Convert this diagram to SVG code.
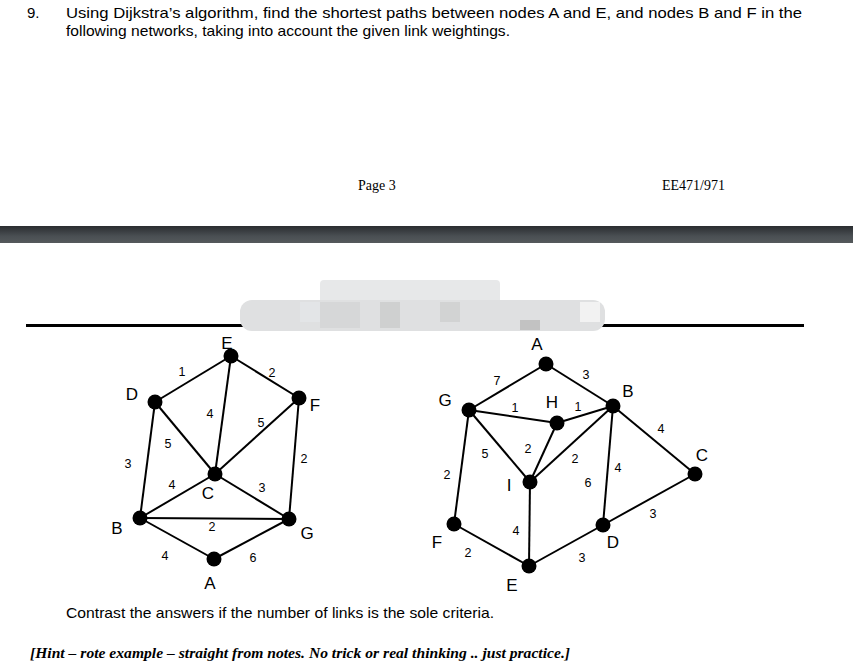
<svg xmlns="http://www.w3.org/2000/svg" width="853" height="669" viewBox="0 0 853 669">
<defs>
<linearGradient id="bar" x1="0" y1="0" x2="0" y2="1">
<stop offset="0" stop-color="#2a2d30"/>
<stop offset="0.6" stop-color="#4a4f53"/>
<stop offset="1" stop-color="#55595c"/>
</linearGradient>
</defs>
<style>
.t{font-family:"Liberation Sans",Arial,sans-serif;fill:#000}
.q{font-size:15px}
.lbl{font-size:17px;text-anchor:middle}
.w{font-size:12.5px;text-anchor:middle}
.tm{font-family:"Liberation Serif","Times New Roman",serif;font-size:14px;fill:#000}
.hint{font-family:"Liberation Serif","Times New Roman",serif;font-size:15px;font-weight:bold;font-style:italic;fill:#000}
.e{stroke:#000;stroke-width:2;fill:none}
.n{fill:#000}
</style>
<rect width="853" height="669" fill="#fff"/>
<text class="t q" x="27" y="18">9.</text>
<text class="t q" x="66" y="18" textLength="736" lengthAdjust="spacingAndGlyphs">Using Dijkstra’s algorithm, find the shortest paths between nodes A and E, and nodes B and F in the</text>
<text class="t q" x="66" y="36" textLength="444" lengthAdjust="spacingAndGlyphs">following networks, taking into account the given link weightings.</text>
<text class="tm" x="358" y="190">Page 3</text>
<text class="tm" x="662" y="190">EE471/971</text>
<rect x="0" y="226" width="853" height="17" fill="url(#bar)"/>
<rect x="26" y="324" width="778" height="3" fill="#000"/>
<g id="blur">
<rect x="320" y="280" width="180" height="24" rx="4" fill="#e7e8e9"/>
<rect x="240" y="300" width="365" height="31" rx="12" fill="#dfe0e1"/>
<rect x="300" y="302" width="20" height="20" fill="#e3e5e7"/>
<rect x="320" y="302" width="40" height="26" fill="#d6d7d8"/>
<rect x="380" y="302" width="20" height="26" fill="#cfd0d0"/>
<rect x="440" y="302" width="20" height="20" fill="#d2d3d3"/>
<rect x="520" y="320" width="20" height="10" fill="#c2c2c2"/>
<rect x="580" y="302" width="20" height="20" fill="#f2f2f2"/>
</g>
<g id="connectors">
<line class="e" x1="155" y1="402" x2="231" y2="356"/>
<line class="e" x1="231" y1="356" x2="299" y2="398"/>
<line class="e" x1="231" y1="356" x2="215" y2="474"/>
<line class="e" x1="155" y1="402" x2="215" y2="474"/>
<line class="e" x1="299" y1="398" x2="215" y2="474"/>
<line class="e" x1="155" y1="402" x2="140" y2="518"/>
<line class="e" x1="299" y1="398" x2="289" y2="519"/>
<line class="e" x1="140" y1="518" x2="215" y2="474"/>
<line class="e" x1="215" y1="474" x2="289" y2="519"/>
<line class="e" x1="140" y1="518" x2="289" y2="519"/>
<line class="e" x1="140" y1="518" x2="214" y2="559"/>
<line class="e" x1="214" y1="559" x2="289" y2="519"/>
<line class="e" x1="469" y1="410" x2="546" y2="364"/>
<line class="e" x1="546" y1="364" x2="613" y2="406"/>
<line class="e" x1="469" y1="410" x2="557" y2="423"/>
<line class="e" x1="557" y1="423" x2="613" y2="406"/>
<line class="e" x1="613" y1="406" x2="695" y2="474"/>
<line class="e" x1="469" y1="410" x2="530" y2="482"/>
<line class="e" x1="557" y1="423" x2="530" y2="482"/>
<line class="e" x1="613" y1="406" x2="530" y2="482"/>
<line class="e" x1="613" y1="406" x2="603" y2="525"/>
<line class="e" x1="695" y1="474" x2="603" y2="525" stroke-width="2.6"/>
<line class="e" x1="469" y1="410" x2="454" y2="524"/>
<line class="e" x1="454" y1="524" x2="529" y2="566"/>
<line class="e" x1="530" y1="482" x2="529" y2="566"/>
<line class="e" x1="529" y1="566" x2="603" y2="525"/>
</g>
<g id="weights" class="t">
<text class="w" x="182" y="376">1</text>
<text class="w" x="272" y="377">2</text>
<text class="w" x="210" y="418">4</text>
<text class="w" x="261" y="427">5</text>
<text class="w" x="168" y="448">5</text>
<text class="w" x="128" y="468">3</text>
<text class="w" x="304" y="463">2</text>
<text class="w" x="172" y="489">4</text>
<text class="w" x="262" y="492">3</text>
<text class="w" x="212" y="531">2</text>
<text class="w" x="165" y="560">4</text>
<text class="w" x="253" y="562">6</text>
<text class="w" x="497" y="385">7</text>
<text class="w" x="586" y="379">3</text>
<text class="w" x="515" y="412">1</text>
<text class="w" x="578" y="411">1</text>
<text class="w" x="661" y="433">4</text>
<text class="w" x="485" y="458">5</text>
<text class="w" x="528" y="453">2</text>
<text class="w" x="575" y="463">2</text>
<text class="w" x="618" y="472">4</text>
<text class="w" x="588" y="487">6</text>
<text class="w" x="447" y="479">2</text>
<text class="w" x="516" y="535">4</text>
<text class="w" x="653" y="518">3</text>
<text class="w" x="468" y="557">2</text>
<text class="w" x="582" y="562">3</text>
</g>
<g id="L-E"><circle class="n" cx="231" cy="356" r="7.5"/><text class="t lbl" x="227" y="349">E</text></g>
<g id="L-D"><circle class="n" cx="155" cy="402" r="7.5"/><text class="t lbl" x="132" y="400">D</text></g>
<g id="L-F"><circle class="n" cx="299" cy="398" r="7.5"/><text class="t lbl" x="315" y="411">F</text></g>
<g id="L-C"><circle class="n" cx="215" cy="474" r="7.5"/><text class="t lbl" x="208" y="499">C</text></g>
<g id="L-B"><circle class="n" cx="140" cy="518" r="7.5"/><text class="t lbl" x="117" y="534">B</text></g>
<g id="L-G"><circle class="n" cx="289" cy="519" r="7.5"/><text class="t lbl" x="307" y="539">G</text></g>
<g id="L-A"><circle class="n" cx="214" cy="559" r="7.5"/><text class="t lbl" x="210" y="589">A</text></g>
<g id="R-A"><circle class="n" cx="546" cy="364" r="7.5"/><text class="t lbl" x="537" y="350">A</text></g>
<g id="R-G"><circle class="n" cx="469" cy="410" r="7.5"/><text class="t lbl" x="445" y="406">G</text></g>
<g id="R-H"><circle class="n" cx="557" cy="423" r="7.5"/><text class="t lbl" x="552" y="408">H</text></g>
<g id="R-B"><circle class="n" cx="613" cy="406" r="7.5"/><text class="t lbl" x="628" y="397">B</text></g>
<g id="R-I"><circle class="n" cx="530" cy="482" r="7.5"/><text class="t lbl" x="509" y="491">I</text></g>
<g id="R-C"><circle class="n" cx="695" cy="474" r="7.5"/><text class="t lbl" x="702" y="461">C</text></g>
<g id="R-F"><circle class="n" cx="454" cy="524" r="7.5"/><text class="t lbl" x="437" y="548">F</text></g>
<g id="R-D"><circle class="n" cx="603" cy="525" r="7.5"/><text class="t lbl" x="613" y="548">D</text></g>
<g id="R-E"><circle class="n" cx="529" cy="566" r="7.5"/><text class="t lbl" x="512" y="591">E</text></g>
<text class="t q" x="66" y="618" textLength="428" lengthAdjust="spacingAndGlyphs">Contrast the answers if the number of links is the sole criteria.</text>
<text class="hint" x="30" y="658" textLength="540" lengthAdjust="spacingAndGlyphs">[Hint – rote example – straight from notes. No trick or real thinking .. just practice.]</text>
</svg>
